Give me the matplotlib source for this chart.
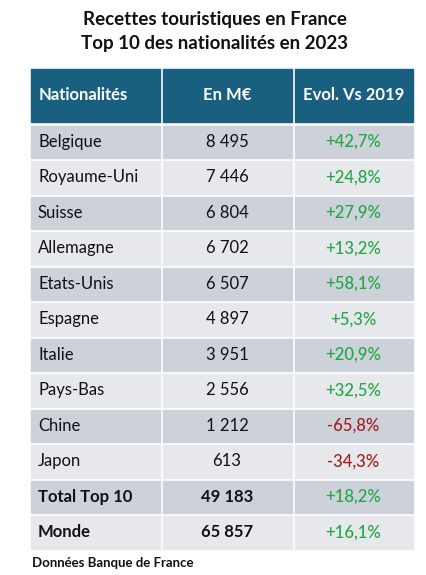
import matplotlib.pyplot as plt
from matplotlib.patches import Rectangle

plt.rcParams['font.family'] = ['Lato', 'DejaVu Sans']

headers = ['Nationalités', 'En M€', 'Evol. Vs 2019']
countries = ['Belgique', 'Royaume-Uni', 'Suisse', 'Allemagne', 'Etats-Unis', 'Espagne',
             'Italie', 'Pays-Bas', 'Chine', 'Japon', 'Total Top 10', 'Monde']
amounts = ['8 495', '7 446', '6 804', '6 702', '6 507', '4 897',
           '3 951', '2 556', '1 212', '613', '49 183', '65 857']
evols = ['+42,7%', '+24,8%', '+27,9%', '+13,2%', '+58,1%', '+5,3%',
         '+20,9%', '+32,5%', '-65,8%', '-34,3%', '+18,2%', '+16,1%']

W, H = 426, 575
fig = plt.figure(figsize=(W / 100, H / 100), dpi=100)
ax = fig.add_axes([0, 0, 1, 1])
ax.set_xlim(0, W)
ax.set_ylim(H, 0)
ax.axis('off')

cols = [(29, 161), (161, 293), (293, 414)]
gap = 1.5
header_blue = '#195f80'
row_colors = ['#cdd1d9', '#e6e8ec']

fig.text(215 / W, 1 - 20 / H, 'Recettes touristiques en France', ha='center', va='center',
         fontsize=13.5, fontweight='bold', color='#111111')
fig.text(215 / W, 1 - 44 / H, 'Top 10 des nationalités en 2023', ha='center', va='center',
         fontsize=13.5, fontweight='bold', color='#111111')

# header
top, bot = 69, 122
for j, (x0, x1) in enumerate(cols):
    ax.add_patch(Rectangle((x0 + gap, top), x1 - x0 - 2 * gap, bot - top, color=header_blue))
    if j == 0:
        ax.text(x0 + 10, (top + bot) / 2, headers[j], ha='left', va='center',
                fontsize=12, fontweight='bold', color='white')
    else:
        ax.text((x0 + x1) / 2, (top + bot) / 2, headers[j], ha='center', va='center',
                fontsize=12, fontweight='bold', color='white')

row_h = 35.5
y = 124
for i in range(len(countries)):
    bold = i >= 10
    fw = 'bold' if bold else 'normal'
    for j, (x0, x1) in enumerate(cols):
        ax.add_patch(Rectangle((x0 + gap, y + gap), x1 - x0 - 2 * gap, row_h - 2 * gap,
                               color=row_colors[i % 2]))
    yc = y + row_h / 2
    ax.text(cols[0][0] + 9, yc, countries[i], ha='left', va='center', fontsize=12,
            fontweight=fw, color='#111111')
    ax.text(sum(cols[1]) / 2, yc, amounts[i], ha='center', va='center', fontsize=12,
            fontweight=fw, color='#111111')
    c = '#a51c1c' if evols[i].startswith('-') else '#22a745'
    ax.text(sum(cols[2]) / 2, yc, evols[i], ha='center', va='center', fontsize=12,
            fontweight='medium', color=c)
    y += row_h

ax.text(32, 563, 'Données Banque de France', ha='left', va='center', fontsize=9.5,
        fontweight='bold', color='#111111')

fig.savefig('out.png', dpi=100)
